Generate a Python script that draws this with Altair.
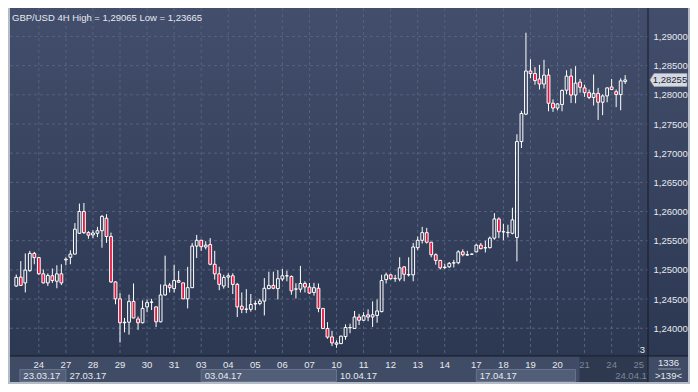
import altair as alt
import pandas as pd
import numpy as np

# ---------------- data (GBP/USD, 4H candles) ----------------
opens = [1.24723, 1.24876, 1.24777, 1.24986, 1.25282, 1.25211, 1.24932, 1.24777, 1.24899, 1.24805,
         1.24932, 1.25171, 1.25216, 1.25270, 1.25627, 1.26000, 1.25638, 1.25599, 1.25627, 1.25671,
         1.25885, 1.25572, 1.24794, 1.24504, 1.24094, 1.24104, 1.24460, 1.24159, 1.24094, 1.24366,
         1.24444, 1.24366, 1.24110, 1.24570, 1.24739, 1.24679, 1.24817, 1.24777, 1.24504, 1.24695,
         1.25408, 1.25507, 1.25392, 1.25434, 1.25096, 1.24932, 1.24723, 1.24876, 1.24899, 1.24751,
         1.24378, 1.24324, 1.24324, 1.24416, 1.24422, 1.24465, 1.24679, 1.24734, 1.24679, 1.24843,
         1.24896, 1.24887, 1.24669, 1.24669, 1.24767, 1.24706, 1.24613, 1.24685, 1.24340, 1.23995,
         1.23852, 1.23726, 1.23737, 1.23857, 1.24008, 1.23995, 1.24192, 1.24136, 1.24230, 1.24192,
         1.24219, 1.24284, 1.24833, 1.24915, 1.24849, 1.24843, 1.25052, 1.24915, 1.24915, 1.25380,
         1.25507, 1.25638, 1.25474, 1.25260, 1.25162, 1.25040, 1.25052, 1.25117, 1.25122, 1.25309,
         1.25254, 1.25267, 1.25309, 1.25424, 1.25377, 1.25380, 1.25544, 1.25873, 1.25651, 1.25638,
         1.25627, 1.25556, 1.27199, 1.27669, 1.28408, 1.28365, 1.28272, 1.28185, 1.28338, 1.27856,
         1.27774, 1.27833, 1.28080, 1.28321, 1.27997, 1.28218, 1.28119, 1.28037, 1.27955, 1.28025,
         1.27873, 1.27981, 1.28135, 1.28053, 1.28004, 1.28227]
highs = [1.24920, 1.25150, 1.25282, 1.25326, 1.25309, 1.25216, 1.25007, 1.24941, 1.25024, 1.25079,
         1.25096, 1.25216, 1.25336, 1.25802, 1.26136, 1.26147, 1.25664, 1.25681, 1.25737, 1.25939,
         1.25955, 1.25638, 1.24805, 1.24603, 1.24176, 1.24575, 1.24767, 1.24202, 1.24476, 1.24493,
         1.24504, 1.24370, 1.24751, 1.25244, 1.24777, 1.25089, 1.24981, 1.24780, 1.25052, 1.25462,
         1.25599, 1.25516, 1.25490, 1.25544, 1.25326, 1.25052, 1.24915, 1.24941, 1.24941, 1.24777,
         1.24613, 1.24669, 1.24587, 1.24476, 1.24504, 1.24859, 1.24969, 1.24969, 1.24997, 1.25014,
         1.24986, 1.24904, 1.24772, 1.25068, 1.24805, 1.24777, 1.24777, 1.24767, 1.24345, 1.24104,
         1.23956, 1.23791, 1.23873, 1.24066, 1.24077, 1.24296, 1.24246, 1.24274, 1.24324, 1.24460,
         1.24493, 1.24915, 1.24953, 1.24932, 1.24915, 1.25216, 1.25063, 1.25216, 1.25462, 1.25572,
         1.25737, 1.25720, 1.25480, 1.25282, 1.25171, 1.25106, 1.25134, 1.25171, 1.25336, 1.25352,
         1.25326, 1.25282, 1.25446, 1.25462, 1.25500, 1.25572, 1.25972, 1.25901, 1.25791, 1.25774,
         1.26065, 1.27324, 1.27725, 1.29065, 1.28612, 1.28474, 1.28513, 1.28600, 1.28448, 1.27922,
         1.27856, 1.28091, 1.28420, 1.28448, 1.28490, 1.28272, 1.28173, 1.28091, 1.28349, 1.28119,
         1.28009, 1.28129, 1.28272, 1.28091, 1.28283, 1.28338]
lows = [1.24707, 1.24723, 1.24613, 1.24969, 1.25096, 1.24915, 1.24767, 1.24723, 1.24777, 1.24685,
        1.24739, 1.25079, 1.25096, 1.25265, 1.25615, 1.25615, 1.25533, 1.25544, 1.25561, 1.25380,
        1.25462, 1.24777, 1.24411, 1.23754, 1.23929, 1.23890, 1.24170, 1.23972, 1.24082, 1.24274,
        1.24312, 1.24021, 1.24100, 1.24559, 1.24613, 1.24613, 1.24777, 1.24500, 1.24340, 1.24690,
        1.25204, 1.25326, 1.25352, 1.25079, 1.24833, 1.24652, 1.24679, 1.24690, 1.24587, 1.24192,
        1.24258, 1.24258, 1.24284, 1.24312, 1.24394, 1.24219, 1.24669, 1.24669, 1.24493, 1.24805,
        1.24805, 1.24575, 1.24509, 1.24613, 1.24613, 1.24587, 1.24559, 1.24274, 1.23984, 1.23819,
        1.23693, 1.23665, 1.23726, 1.23803, 1.23913, 1.23990, 1.24054, 1.24131, 1.24120, 1.24021,
        1.24094, 1.24274, 1.24767, 1.24833, 1.24794, 1.24805, 1.24805, 1.24887, 1.24805, 1.25336,
        1.25451, 1.25451, 1.25216, 1.25089, 1.25007, 1.25014, 1.25035, 1.25040, 1.25096, 1.25232,
        1.25244, 1.25260, 1.25298, 1.25352, 1.25298, 1.25369, 1.25516, 1.25544, 1.25507, 1.25556,
        1.25610, 1.25145, 1.27089, 1.27652, 1.28283, 1.28173, 1.28091, 1.28108, 1.27718, 1.27708,
        1.27735, 1.27718, 1.28009, 1.27861, 1.27856, 1.28037, 1.27965, 1.27927, 1.27817, 1.27570,
        1.27652, 1.27873, 1.28080, 1.27790, 1.27735, 1.28185]
closes = [1.24871, 1.24734, 1.24997, 1.25282, 1.25211, 1.24932, 1.24777, 1.24904, 1.24817, 1.24932,
          1.24777, 1.25183, 1.25270, 1.25697, 1.26000, 1.25638, 1.25594, 1.25632, 1.25671, 1.25917,
          1.25572, 1.24794, 1.24504, 1.24094, 1.24104, 1.24460, 1.24176, 1.24094, 1.24340, 1.24439,
          1.24449, 1.24110, 1.24570, 1.24739, 1.24695, 1.24817, 1.24789, 1.24504, 1.24695, 1.25408,
          1.25507, 1.25397, 1.25424, 1.25096, 1.24932, 1.24751, 1.24871, 1.24899, 1.24751, 1.24366,
          1.24324, 1.24329, 1.24406, 1.24422, 1.24465, 1.24685, 1.24734, 1.24685, 1.24849, 1.24899,
          1.24899, 1.24641, 1.24674, 1.24767, 1.24706, 1.24603, 1.24695, 1.24340, 1.23995, 1.23847,
          1.23749, 1.23749, 1.23864, 1.24012, 1.24012, 1.24192, 1.24136, 1.24214, 1.24192, 1.24230,
          1.24296, 1.24817, 1.24915, 1.24849, 1.24854, 1.25035, 1.24925, 1.24920, 1.25392, 1.25507,
          1.25638, 1.25474, 1.25260, 1.25162, 1.25035, 1.25047, 1.25112, 1.25122, 1.25309, 1.25260,
          1.25260, 1.25270, 1.25424, 1.25364, 1.25380, 1.25544, 1.25873, 1.25654, 1.25654, 1.25643,
          1.25857, 1.27199, 1.27680, 1.28408, 1.28365, 1.28244, 1.28185, 1.28338, 1.27856, 1.27774,
          1.27845, 1.28075, 1.28321, 1.27997, 1.28201, 1.28129, 1.28037, 1.27955, 1.28025, 1.27873,
          1.27981, 1.28119, 1.28091, 1.28004, 1.28239, 1.28255]

day_labels = ["24", "27", "28", "29", "30", "31", "03", "04", "05", "06", "07", "10",
              "11", "12", "13", "14", "17", "18", "19", "20", "21", "24", "25"]
day_index = [5, 11, 17, 23, 29, 35, 41, 47, 53, 59, 65, 71,
             77, 83, 89, 95, 102, 108, 114, 120, 126, 132, 138]

week_labels = ["23.03.17", "27.03.17", "03.04.17", "10.04.17", "17.04.17", "24.04.17"]
week_start = [0.8, 11, 41, 71, 102, 132]
week_end = [11, 41, 71, 102, 124, 138.9]
week_boxed = [True, False, True, False, True, False]

price_ticks = [1.240, 1.245, 1.250, 1.255, 1.260, 1.265, 1.270, 1.275, 1.280, 1.285, 1.290]

# ---------------- layout / style ----------------
PW, PH = 638, 348          # plot area
FONT = "Liberation Sans"
TXT = "#e6e9ef"
DIM = "#7c8699"
GRID = "#56627d"
RED = "#e3173e"

x_scale = alt.Scale(domain=[-0.28, 138.95], nice=False, zero=False)
y_scale = alt.Scale(domain=[1.23524, 1.29488], nice=False, zero=False)
y_axis = alt.Axis(orient="right", values=price_ticks,
                  labelExpr="replace(format(datum.value, '.5f'), '.', ',')",
                  labelPadding=5, domain=False, ticks=False, grid=False, title=None,
                  labelColor=TXT, labelFont=FONT, labelFontSize=9.5,
                  labelFlush=False, labelOverlap=False, zindex=1)

bg_grad = alt.Gradient(gradient="linear",
                       stops=[alt.GradientStop(color="#424e6b", offset=0),
                              alt.GradientStop(color="#2c3852", offset=1)],
                       x1=0, x2=0, y1=0, y2=1)

one = pd.DataFrame({"k": [0]})

df = pd.DataFrame({"i": np.arange(len(opens)), "open": opens, "high": highs,
                   "low": lows, "close": closes})
df["top"] = df[["open", "close"]].max(axis=1)
df["bot"] = df[["open", "close"]].min(axis=1)
df["high"] = df[["high", "top"]].max(axis=1)
df["low"] = df[["low", "bot"]].min(axis=1)
df["dir"] = np.where(df["close"] >= df["open"], "up", "down")

days = pd.DataFrame({"i": day_index, "label": day_labels})
weeks = pd.DataFrame({"s": week_start, "e": week_end, "label": week_labels, "boxed": week_boxed})
ticks = pd.DataFrame({"p": price_ticks})

def fmt(v):
    return f"{v:.5f}".replace(".", ",")

title_txt = f"GBP/USD 4H High = {fmt(max(highs))} Low = {fmt(min(lows))}"
last = pd.DataFrame({"p": [closes[-1]], "t": [fmt(closes[-1])]})

X = lambda f: alt.X(f, scale=x_scale, axis=None)
Y = lambda f: alt.Y(f, scale=y_scale, axis=y_axis)

# plot background
plot_bg = alt.Chart(one).mark_rect(color=bg_grad).encode(
    x=alt.value(0), x2=alt.value(PW), y=alt.value(0), y2=alt.value(PH))

grid_x = alt.Chart(days).mark_rule(color=GRID, strokeDash=[3, 3], strokeWidth=1).encode(
    x=X("i:Q"), y=alt.value(0), y2=alt.value(PH))
grid_y = alt.Chart(ticks).mark_rule(color=GRID, strokeDash=[3, 3], strokeWidth=1).encode(
    y=Y("p:Q"), x=alt.value(0), x2=alt.value(PW))

wick_up = alt.Chart(df).mark_rule(color="white", strokeWidth=1).encode(
    x=X("i:Q"), y=Y("high:Q"), y2="top:Q")
wick_dn = alt.Chart(df).mark_rule(color="white", strokeWidth=1).encode(
    x=X("i:Q"), y=Y("bot:Q"), y2="low:Q")
bodies = alt.Chart(df).mark_bar(size=2.8, stroke="white", strokeWidth=1).encode(
    x=X("i:Q"), y=Y("top:Q"), y2="bot:Q",
    fill=alt.Fill("dir:N", scale=alt.Scale(domain=["up", "down"], range=["transparent", RED]),
                  legend=None))

title = alt.Chart(one).mark_text(align="left", baseline="alphabetic", font=FONT,
                                 fontSize=9.5, color=TXT, text=title_txt).encode(
    x=alt.value(2), y=alt.value(12.5))
count_txt = alt.Chart(one).mark_text(align="right", baseline="middle", font=FONT,
                                     fontSize=9.5, color=TXT, text="3").encode(
    x=alt.value(635), y=alt.value(342))

# bottom band
band = alt.Chart(one).mark_rect(color="#404c65").encode(
    x=alt.value(-2), x2=alt.value(680), y=alt.value(PH), y2=alt.value(376))
boxes = alt.Chart(weeks).transform_filter("datum.boxed").mark_rect(
    color="#525e77", stroke="#68738b", strokeWidth=1).encode(
    x=X("s:Q"), x2="e:Q", y=alt.value(361.5), y2=alt.value(373.5))
overlay = alt.Chart(one).mark_rect(color="#2e394f").encode(
    x=alt.value(569.5), x2=alt.value(PW), y=alt.value(PH + 0.5), y2=alt.value(376))
day_txt = alt.Chart(days).mark_text(align="center", baseline="middle", font=FONT,
                                    fontSize=9.5).encode(
    x=X("i:Q"), y=alt.value(356.5), text="label:N",
    color=alt.condition("datum.i >= 124", alt.value(DIM), alt.value(TXT)))
week_txt = alt.Chart(weeks).mark_text(align="left", baseline="middle", font=FONT,
                                      fontSize=9.5, dx=3.5).encode(
    x=X("s:Q"), y=alt.value(367.5), text="label:N",
    color=alt.condition("datum.s >= 124", alt.value(DIM), alt.value(TXT)))

# right panel
panel = alt.Chart(one).mark_rect(color=bg_grad).encode(
    x=alt.value(PW), x2=alt.value(678), y=alt.value(0), y2=alt.value(PH))
panel_band = alt.Chart(one).mark_rect(color="#404c65").encode(
    x=alt.value(PW), x2=alt.value(678), y=alt.value(PH), y2=alt.value(374))
tag_shape = "M -1 0 L -0.78 -0.35 L 1 -0.35 L 1 0.35 L -0.78 0.35 Z"
tag = alt.Chart(last).mark_point(shape=tag_shape, size=1370, filled=True, fill="#d5dae2",
                                 stroke="#aab2c0", strokeWidth=0.5, opacity=1).encode(
    x=alt.value(658.5), y=Y("p:Q"))
tag_txt = alt.Chart(last).mark_text(align="center", baseline="middle", font=FONT,
                                    fontSize=9.5, color="#1b2232").encode(
    x=alt.value(660), y=Y("p:Q"), text="t:N")
n1 = alt.Chart(one).mark_text(align="center", baseline="middle", font=FONT, fontSize=9.5,
                              color=TXT, text="1336").encode(x=alt.value(658.5), y=alt.value(355))
n_line = alt.Chart(one).mark_rule(color="#8c95a6", strokeWidth=1).encode(
    x=alt.value(648), x2=alt.value(671), y=alt.value(361), y2=alt.value(361))
n2 = alt.Chart(one).mark_text(align="center", baseline="middle", font=FONT, fontSize=9.5,
                              color=TXT, text=">139<").encode(x=alt.value(658.5), y=alt.value(367.5))

# separators and frame
sep_h = alt.Chart(one).mark_rule(color="#141a26", strokeWidth=1).encode(
    x=alt.value(-2), x2=alt.value(678), y=alt.value(PH), y2=alt.value(PH))
sep_v = alt.Chart(one).mark_rule(color="#141a26", strokeWidth=1).encode(
    x=alt.value(PW), x2=alt.value(PW), y=alt.value(0), y2=alt.value(374))
frame_l = alt.Chart(one).mark_rect(color="#b4bcc8").encode(
    x=alt.value(-2), x2=alt.value(0), y=alt.value(0), y2=alt.value(376))
frame_r = alt.Chart(one).mark_rect(color="#b4bcc8").encode(
    x=alt.value(678), x2=alt.value(680), y=alt.value(0), y2=alt.value(376))
frame_b = alt.Chart(one).mark_rect(color="#b4bcc8").encode(
    x=alt.value(-2), x2=alt.value(680), y=alt.value(374), y2=alt.value(376))

chart = alt.layer(
    plot_bg, grid_x, grid_y, wick_up, wick_dn, bodies, title, count_txt,
    band, boxes, overlay, day_txt, week_txt,
    panel, panel_band, tag, tag_txt, n1, n_line, n2,
    sep_h, sep_v, frame_l, frame_r, frame_b
).properties(
    width=PW, height=PH,
    padding={"left": 2, "top": 0, "right": 42, "bottom": 28},
    autosize=alt.AutoSizeParams(type="none"),
    background="#3a4560",
).configure_view(stroke=None)

chart.save("out.html", embed_options={"renderer": "svg", "actions": False})
